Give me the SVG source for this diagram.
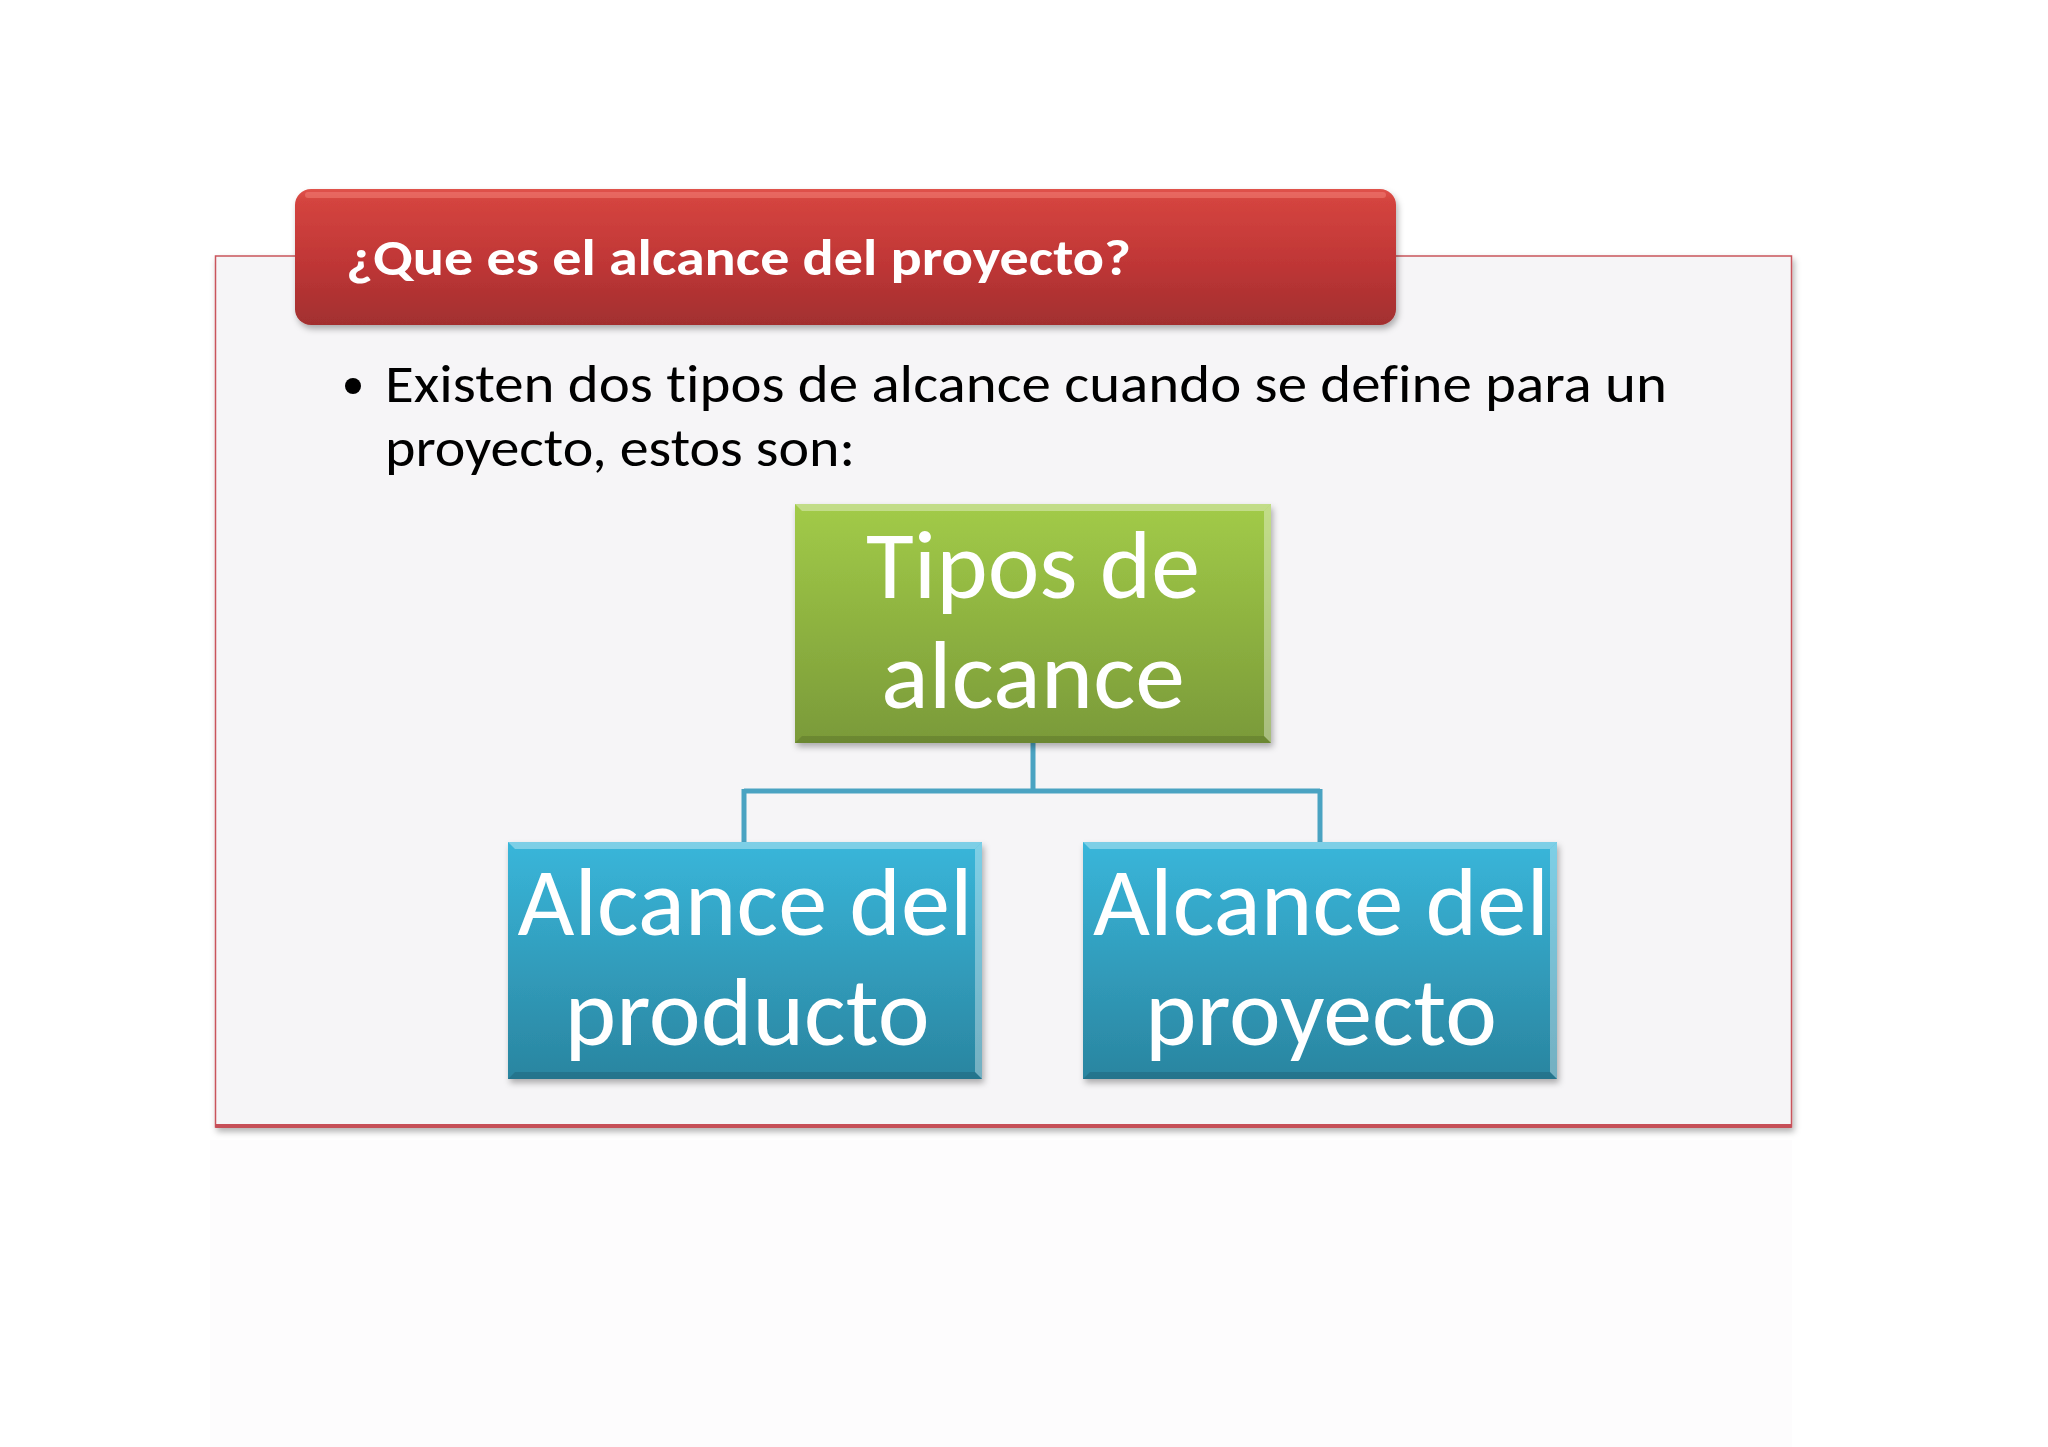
<svg xmlns="http://www.w3.org/2000/svg" width="2048" height="1447" viewBox="0 0 2048 1447">
<defs>
<linearGradient id="gRed" x1="0" y1="0" x2="0" y2="1">
<stop offset="0" stop-color="#e0534c"/>
<stop offset="0.08" stop-color="#d4443f"/>
<stop offset="0.55" stop-color="#bf3636"/>
<stop offset="1" stop-color="#a22f2f"/>
</linearGradient>
<linearGradient id="gGreen" x1="0" y1="0" x2="0" y2="1">
<stop offset="0" stop-color="#a2cb48"/>
<stop offset="1" stop-color="#7a9a39"/>
</linearGradient>
<linearGradient id="gBlue" x1="0" y1="0" x2="0" y2="1">
<stop offset="0" stop-color="#39b6da"/>
<stop offset="1" stop-color="#2a85a0"/>
</linearGradient>
<filter id="sh" x="-5%" y="-10%" width="110%" height="130%">
<feDropShadow dx="2" dy="4" stdDeviation="3" flood-color="#000" flood-opacity="0.3"/>
</filter>
</defs>
<style>
text{font-variant-ligatures:none}
.ttl{font-family:Carlito,Lato,"Liberation Sans",sans-serif;font-weight:bold;fill:#fff;font-size:50px}
.body{font-family:Carlito,Lato,"Liberation Sans",sans-serif;fill:#000;font-size:53px}
.nt{font-family:Carlito,Lato,"Liberation Sans",sans-serif;fill:#fff;font-size:96px;text-anchor:middle}
.conn{stroke:#4aa3c2;stroke-width:5;fill:none}
.bevL{fill:#fff;opacity:0.35}
.bevD{fill:#000;opacity:0.12}
</style>
<rect width="2048" height="1447" fill="#ffffff"/>
<rect x="210" y="1140" width="1582" height="307" fill="#fdfcfd"/>
<g id="panel">
<rect x="215.5" y="256" width="1576" height="871" fill="#f6f5f7" stroke="#c9555b" stroke-width="1.5" filter="url(#sh)"/>
<line x1="215.5" y1="1126" x2="1791.5" y2="1126" stroke="#c64f58" stroke-width="4"/>
</g>
<g id="header">
<rect x="295" y="189" width="1101" height="136" rx="16" fill="url(#gRed)" filter="url(#sh)"/>
<rect x="305" y="192" width="1081" height="6" rx="3" fill="#f07a72" opacity="0.6"/>
<text class="ttl" x="346" y="275" textLength="785" lengthAdjust="spacingAndGlyphs">¿Que es el alcance del proyecto?</text>
</g>
<g id="bullet">
<circle cx="353" cy="386" r="8" fill="#000"/>
<text class="body" x="385" y="402" textLength="1282" lengthAdjust="spacingAndGlyphs">Existen dos tipos de alcance cuando se define para un</text>
<text class="body" x="385" y="466" textLength="470" lengthAdjust="spacingAndGlyphs">proyecto, estos son:</text>
</g>
<g id="connectors">
<path class="conn" d="M1033 743 V791 M744 791 H1320 M744 789 V842 M1320 789 V842"/>
</g>
<g id="node-tipos">
<rect x="795" y="504" width="476" height="239" fill="url(#gGreen)" filter="url(#sh)"/>
<polygon class="bevL" points="795,504 1271,504 1264,511 802,511"/>
<polygon class="bevL" points="1271,504 1271,743 1264,736 1264,511"/>
<polygon class="bevD" points="795,743 1271,743 1264,736 802,736"/>
<text class="nt" x="1033" y="598" textLength="334" lengthAdjust="spacingAndGlyphs">Tipos de</text>
<text class="nt" x="1033" y="708" textLength="304" lengthAdjust="spacingAndGlyphs">alcance</text>
</g>
<g id="node-producto">
<rect x="508" y="842" width="474" height="237" fill="url(#gBlue)" filter="url(#sh)"/>
<polygon class="bevL" points="508,842 982,842 975,849 515,849"/>
<polygon class="bevL" points="982,842 982,1079 975,1072 975,849"/>
<polygon class="bevD" points="508,1079 982,1079 975,1072 515,1072"/>
<text class="nt" x="745" y="935" textLength="455" lengthAdjust="spacingAndGlyphs">Alcance del</text>
<text class="nt" x="747" y="1045" textLength="365" lengthAdjust="spacingAndGlyphs">producto</text>
</g>
<g id="node-proyecto">
<rect x="1083" y="842" width="474" height="237" fill="url(#gBlue)" filter="url(#sh)"/>
<polygon class="bevL" points="1083,842 1557,842 1550,849 1090,849"/>
<polygon class="bevL" points="1557,842 1557,1079 1550,1072 1550,849"/>
<polygon class="bevD" points="1083,1079 1557,1079 1550,1072 1090,1072"/>
<text class="nt" x="1321" y="935" textLength="456" lengthAdjust="spacingAndGlyphs">Alcance del</text>
<text class="nt" x="1321" y="1045" textLength="352" lengthAdjust="spacingAndGlyphs">proyecto</text>
</g>
</svg>
